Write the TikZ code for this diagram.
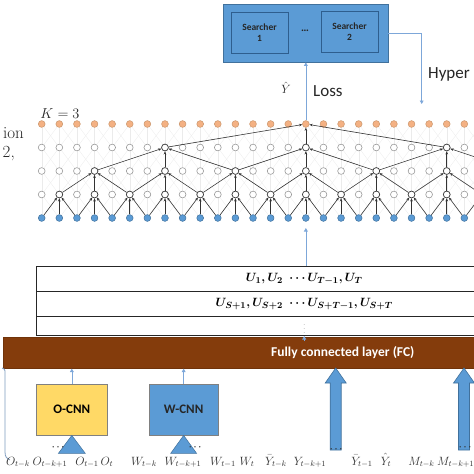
\documentclass[tikz,border=0pt]{standalone}
\usepackage{amsmath}
\usepackage{fontspec}
\setsansfont{Carlito}
\usetikzlibrary{arrows.meta}
\pgfdeclarelayer{background}
\pgfsetlayers{background,main}
\definecolor{nblue}{HTML}{5B9BD5}
\definecolor{nbluedark}{HTML}{41719C}
\definecolor{ninner}{HTML}{2E5E8E}
\definecolor{norange}{HTML}{F4B183}
\definecolor{norangedark}{HTML}{C9956B}
\definecolor{fcbrown}{HTML}{843C0C}
\definecolor{ocnny}{HTML}{FFD966}
\definecolor{lblue}{HTML}{7DA7D9}
\definecolor{lblgray}{HTML}{333333}
\begin{document}
\begin{tikzpicture}[x=1pt,y=-1pt,
  cblue/.style={circle,draw=nbluedark,fill=nblue,line width=0.5pt,inner sep=0pt,minimum size=6.8pt},
  corange/.style={circle,draw=norangedark,fill=norange,line width=0.5pt,inner sep=0pt,minimum size=6.8pt},
  cwhite/.style={circle,draw=black!40,fill=white,line width=0.6pt,inner sep=0pt,minimum size=6.8pt},
  cwhiteh/.style={circle,draw=black!75,fill=white,line width=0.7pt,inner sep=0pt,minimum size=6.8pt},
  treearrow/.style={-{Stealth[length=3.2pt,width=2.6pt]},line width=0.6pt,draw=black!80},
  meshline/.style={draw=black!8,line width=0.3pt},
  thinarrow/.style={-{Triangle[length=3.5pt,width=3.8pt]},draw=lblue,line width=0.7pt},
  searcherbox/.style={draw=ninner,fill=nblue,line width=0.6pt,minimum width=57pt,minimum height=41pt,align=center,inner sep=0pt,text=black!85,font=\sffamily\bfseries\fontsize{9.5}{11.5}\selectfont},
  ubox/.style={draw=black!85,line width=1pt,minimum width=536pt,anchor=north west,inner sep=0pt,font=\fontsize{12.5}{14}\selectfont},
  cnnbox/.style={draw=black!50,line width=0.8pt,minimum height=51pt,inner sep=0pt,font=\sffamily\bfseries\fontsize{13}{14}\selectfont},
  tri/.style={fill=nblue,draw=nbluedark,line width=0.5pt},
  bigarrow/.style={fill=nblue,draw=nbluedark,line width=0.6pt},
  lab/.style={anchor=base,text=lblgray,inner sep=0pt,font=\fontsize{12}{12}\selectfont},
  dotlab/.style={inner sep=0pt,text=black!80,font=\fontsize{9}{9}\selectfont},
  bigtext/.style={font=\sffamily\fontsize{17}{18}\selectfont,text=black!85,inner sep=0pt}
]
\useasboundingbox (0,0) rectangle (474,474);
\clip (0,0) rectangle (474,474);

% ---------- network nodes ----------
\foreach \c in {0,...,31} {
  \pgfmathsetmacro\xx{41.7+17.61*\c}
  \node[corange] (n0-\c) at (\xx,124) {};
  \node[cwhite] (n1-\c) at (\xx,147.5) {};
  \node[cwhite] (n2-\c) at (\xx,171) {};
  \node[cwhite] (n3-\c) at (\xx,194.5) {};
  \node[cblue] (n4-\c) at (\xx,218) {};
}
\foreach \c in {1,3,...,29} {\pgfmathsetmacro\xx{41.7+17.61*\c}\node[cwhiteh] (n3-\c) at (\xx,194.5) {};}
\foreach \c in {3,7,...,27} {\pgfmathsetmacro\xx{41.7+17.61*\c}\node[cwhiteh] (n2-\c) at (\xx,171) {};}
\foreach \c in {7,15,23} {\pgfmathsetmacro\xx{41.7+17.61*\c}\node[cwhiteh] (n1-\c) at (\xx,147.5) {};}

% faint mesh
\begin{pgfonlayer}{background}
\foreach \r/\rr in {0/1,1/2,2/3,3/4} {
  \foreach \c in {0,...,31} {
    \draw[meshline] (n\rr-\c) -- (n\r-\c);
  }
  \foreach \c in {0,...,30} {
    \pgfmathtruncatemacro\s{\c+1}
    \draw[meshline] (n\rr-\c) -- (n\r-\s);
    \draw[meshline] (n\rr-\s) -- (n\r-\c);
  }
}
\end{pgfonlayer}

% tree arrows
\foreach \c in {1,3,...,25} {
  \foreach \d in {-1,0,1} {
    \pgfmathtruncatemacro\s{\c+\d}
    \draw[treearrow] (n4-\s) -- (n3-\c);
  }
}
\foreach \c in {3,7,...,27} {
  \foreach \d in {-2,0,2} {
    \pgfmathtruncatemacro\s{\c+\d}
    \draw[treearrow] (n3-\s) -- (n2-\c);
  }
}
\foreach \c in {7,15,23} {
  \foreach \d in {-4,0,4} {
    \pgfmathtruncatemacro\s{\c+\d}
    \draw[treearrow] (n2-\s) -- (n1-\c);
  }
}
\foreach \d in {-8,0,8} {
  \pgfmathtruncatemacro\s{15+\d}
  \draw[treearrow] (n1-\s) -- (n0-15);
}

\node[font=\fontsize{14}{14}\selectfont,inner sep=0pt,text=black!85] (klab) at (60,114) {$K=3$};
\node[anchor=east,inner sep=0pt,font=\fontsize{17}{18}\selectfont,text=black!85] (ion) at (24,133) {ion};
\node[anchor=east,inner sep=0pt,font=\fontsize{17}{18}\selectfont,text=black!85] (two) at (15,154) {2,};

% ---------- searchers ----------
\node[draw=nbluedark,fill=nblue,line width=0.8pt,minimum width=165pt,minimum height=58pt,inner sep=0pt] (srch) at (305.5,33) {};
\node[searcherbox] (s1) at (259.5,32.5) {Searcher\\1};
\node[searcherbox] (s2) at (349.5,31.5) {Searcher\\2};
\node[inner sep=0pt,font=\sffamily\bfseries\fontsize{11}{11}\selectfont,text=black!85] (sdots) at (305,31) {\dots};

\draw[thinarrow] (n0-15) -- (srch.south -| n0-15);
\node[inner sep=0pt,font=\fontsize{13}{13}\selectfont,text=black!85] (yhat) at (286,88) {$\hat{Y}$};
\node[bigtext,anchor=west] (loss) at (313,91) {Loss};
\coordinate (hyperend) at (421.7,104);
\draw[thinarrow] (srch.east) -| (hyperend);
\node[bigtext,anchor=west] (hyper) at (428,74) {Hyper};

% ---------- U box ----------
\node[ubox,minimum height=25.6pt] (u1) at (35.7,265.7) {$\boldsymbol{U_1, U_2\ \cdots U_{T-1}, U_T}$};
\node[ubox,minimum height=24.7pt] (u2) at (35.7,291.3) {$\boldsymbol{U_{S+1}, U_{S+2}\ \cdots U_{S+T-1}, U_{S+T}}$};
\node[ubox,minimum height=19pt,font=\fontsize{8}{8}\selectfont,text=black!50] (u3) at (35.7,316) {$\vdots$};
\coordinate (netin) at (305.85,228);
\draw[thinarrow] (u1.north -| netin) -- (netin);

% ---------- FC ----------
\node[fill=fcbrown,draw=fcbrown!85!black,line width=0.6pt,minimum width=679pt,minimum height=31pt,anchor=north west,inner sep=0pt,text=white,font=\sffamily\bfseries\fontsize{13.5}{15}\selectfont] (fc) at (3,337) {Fully connected layer (FC)};
\draw[thinarrow] ([yshift=-4pt]fc.north -| u3.south) -- (u3.south);

% ---------- CNN boxes ----------
\node[cnnbox,fill=ocnny,minimum width=71.7pt] (ocnn) at (71.85,409.5) {O-CNN};
\node[cnnbox,fill=nblue,minimum width=69.3pt,text=black!85] (wcnn) at (183.65,409.5) {W-CNN};
\draw[tri] (ocnn.south) -- ++(13.5,18) -- ++(-27,0) -- cycle;
\draw[tri] (wcnn.south) -- ++(13,18) -- ++(-26,0) -- cycle;
\draw[thinarrow] (ocnn.north) -- (ocnn.north |- fc.south);
\draw[thinarrow] (wcnn.north) -- (wcnn.north |- fc.south);

% big arrows
\coordinate (yarr) at (335.7,450);
\coordinate (marr) at (464,450);
\draw[bigarrow] (yarr) ++(-5.5,0) -- ++(0,-67) -- ++(-5,0) -- ++(10.5,-15) -- ++(10.5,15) -- ++(-5,0) -- ++(0,67) -- cycle;
\draw[bigarrow] (marr) ++(-5.5,0) -- ++(0,-67) -- ++(-5,0) -- ++(10.5,-15) -- ++(10.5,15) -- ++(-5,0) -- ++(0,67) -- cycle;

% left curve
\draw[draw=lblue!70!gray,line width=0.8pt] (2,368) .. controls (6,369) and (5,372) .. (5,376) -- (5,452) .. controls (5,457) and (7,459) .. (10,460);

% ---------- bottom labels ----------
\node[lab] (o1) at (18,465) {$O_{t-k}$};
\node[lab] (o2) at (50,465) {$O_{t-k+1}$};
\node[lab] (o3) at (87,465) {$O_{t-1}$};
\node[lab] (o4) at (107,465) {$O_t$};
\node[lab] (w1) at (144,465) {$W_{t-k}$};
\node[lab] (w2) at (183,465) {$W_{t-k+1}$};
\node[lab] (w3) at (223,465) {$W_{t-1}$};
\node[lab] (w4) at (247,465) {$W_t$};
\node[lab] (y1) at (276,465) {$\bar{Y}_{t-k}$};
\node[lab] (y2) at (310,465) {$Y_{t-k+1}$};
\node[lab] (y3) at (362,465) {$\bar{Y}_{t-1}$};
\node[lab] (y4) at (386,465) {$\hat{Y}_t$};
\node[lab] (m1) at (421.5,465) {$M_{t-k}$};
\node[lab,anchor=base west] (m2) at (437,465) {$M_{t-k+1}$};
\node[dotlab] (od) at (59,447) {$\boldsymbol{\cdots}$};
\node[dotlab] (wd) at (196,447) {$\boldsymbol{\cdots}$};
\node[dotlab] (yd) at (337,449) {$\boldsymbol{\cdots}$};
\node[dotlab] (md) at (466,447) {$\boldsymbol{\cdots}$};
\end{tikzpicture}
\end{document}
